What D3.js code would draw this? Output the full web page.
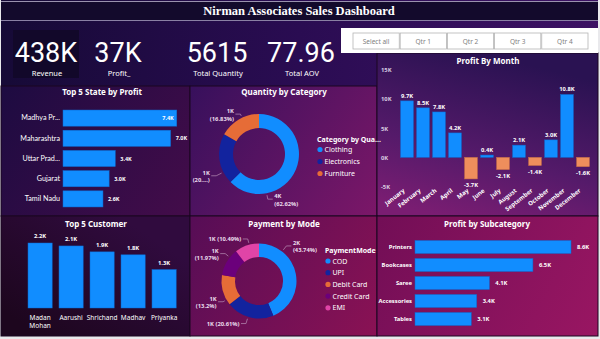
<!DOCTYPE html>
<html><head><meta charset="utf-8">
<script src="https://cdn.jsdelivr.net/npm/d3@7"></script>
<style>
html,body{margin:0;padding:0;background:#e9e9ec;}
svg{display:block;}
text{font-family:"Noto Sans","Open Sans",sans-serif;}
</style></head><body>
<svg id="dash" width="600" height="339"></svg>
<script>
// ---- data ----
const kpiValues = ["438K", "37K", "5615", "77.96"];
const kpiLabels = ["Revenue", "Profit_", "Total Quantity", "Total AOV"];
const quarters = ["Select all", "Qtr 1", "Qtr 2", "Qtr 3", "Qtr 4"];

const states = ["Madhya Pradesh", "Maharashtra", "Uttar Pradesh", "Gujarat", "Tamil Nadu"];
const stateProfit = [7400, 7000, 3400, 3000, 2600];

const categories = ["Clothing", "Electronics", "Furniture"];
const categoryQty = [3516, 1154, 945];

const months = ["January", "February", "March", "April", "May", "June", "July",
  "August", "September", "October", "November", "December"];
const monthProfit = [9700, 8500, 7800, 4200, -3700, 400, -2100, 2100, -1400, 3000, 10800, -1600];
const monthTicks = [-5000, 0, 5000, 10000, 15000];

const customers = ["Madan Mohan", "Aarushi", "Shrichand", "Madhav", "Priyanka"];
const customerAmount = [2200, 2100, 1900, 1800, 1300];

const payModes = ["COD", "UPI", "Debit Card", "Credit Card", "EMI"];
const payQty = [2456, 1157, 741, 672, 589];

const subcats = ["Printers", "Bookcases", "Saree", "Accessories", "Tables"];
const subcatProfit = [8600, 6500, 4100, 3400, 3100];

// ---- styling ----
const BLUE = "#118DFF", NAVY = "#12239E", ORANGE = "#E66C37", PURPLE = "#6B007B", PINK = "#E044A7";
const NEG = "#EE8E5C";
const fmtK1 = v => (v / 1000).toFixed(1) + "K";
const fmtK0 = v => Math.round(v / 1000) + "K";
const fmtPct = p => "(" + (p * 100).toFixed(2).replace(/\.?0+$/, "") + "%)";

const svg = d3.select("#dash");
const defs = svg.append("defs");
function grad(id, stops, x1, y1, x2, y2) {
  const g = defs.append("linearGradient").attr("id", id)
    .attr("gradientUnits", "userSpaceOnUse")
    .attr("x1", x1).attr("y1", y1).attr("x2", x2).attr("y2", y2);
  stops.forEach(([o, c]) => g.append("stop").attr("offset", o).attr("stop-color", c));
  return `url(#${id})`;
}

// ---- frame and panels ----
svg.append("rect").attr("x", 1).attr("y", 0).attr("width", 597).attr("height", 336)
  .attr("fill", grad("gTop", [[0, "#160a36"], [0.5, "#2a0c52"], [1, "#3d1264"]], 0, 0, 600, 60));

const panels = [
  {x: 1, y: 86, w: 189, h: 130, fill: grad("gState", [[0, "#1d0b41"], [1, "#440c4a"]], 1, 86, 190, 216)},
  {x: 190, y: 86, w: 187, h: 130, fill: grad("gQty", [[0, "#37105c"], [1, "#7c1768"]], 190, 86, 377, 216)},
  {x: 377, y: 53, w: 221, h: 163, fill: grad("gMonth", [[0, "#2a1252"], [0.6, "#551a6a"], [1, "#7a1d72"]], 480, 53, 440, 216)},
  {x: 1, y: 216, w: 189, h: 120, fill: grad("gCust", [[0, "#300b3e"], [1, "#1d061e"]], 120, 216, 40, 336)},
  {x: 190, y: 216, w: 187, h: 120, fill: grad("gPay", [[0, "#560d56"], [1, "#8a1254"]], 190, 216, 377, 336)},
  {x: 377, y: 216, w: 221, h: 120, fill: grad("gSub", [[0, "#720e56"], [1, "#991662"]], 377, 216, 598, 336)}
];
svg.selectAll("rect.panel").data(panels).join("rect").attr("class", "panel")
  .attr("x", d => d.x).attr("y", d => d.y).attr("width", d => d.w).attr("height", d => d.h)
  .attr("fill", d => d.fill).attr("stroke", "#1a0620").attr("stroke-width", 1);

// title bar
svg.append("rect").attr("x", 1).attr("y", 2).attr("width", 597).attr("height", 18).attr("fill", "#130a2c");
svg.append("line").attr("x1", 1).attr("x2", 598).attr("y1", 1.5).attr("y2", 1.5).attr("stroke", "#9a92ae").attr("stroke-width", 1.2);
svg.append("line").attr("x1", 1).attr("x2", 598).attr("y1", 20.5).attr("y2", 20.5).attr("stroke", "#8a80a4").attr("stroke-width", 1.2);
svg.append("text").attr("x", 299).attr("y", 15).attr("text-anchor", "middle")
  .attr("fill", "#fff").attr("font-size", 12.5).attr("font-weight", "bold")
  .style("font-family", '"Liberation Serif","DejaVu Serif",serif')
  .text("Nirman Associates Sales Dashboard");

// ---- KPI cards ----
svg.append("rect").attr("x", 13).attr("y", 30).attr("width", 66).attr("height", 48).attr("fill", "#12082a");
const kpiX = [46, 118, 217, 301];
kpiValues.forEach((v, i) => {
  svg.append("text").attr("x", kpiX[i]).attr("y", 62).attr("text-anchor", "middle")
    .attr("fill", "#fff").attr("font-size", 27).style("font-family", "Roboto,sans-serif").text(v);
  svg.append("text").attr("x", kpiX[i] + 1).attr("y", 76).attr("text-anchor", "middle")
    .attr("fill", "#fff").attr("font-size", 7.5).text(kpiLabels[i]);
});

// ---- quarter slicer ----
svg.append("rect").attr("x", 341).attr("y", 28).attr("width", 257).attr("height", 25).attr("fill", "#fff");
const qx = d3.scaleBand().domain(quarters).range([353, 588]).paddingInner(0.02);
svg.selectAll("rect.q").data(quarters).join("rect").attr("class", "q")
  .attr("x", d => qx(d)).attr("y", 33).attr("width", qx.bandwidth()).attr("height", 16)
  .attr("fill", "#fff").attr("stroke", "#b4b4b4").attr("stroke-width", 0.8);
svg.selectAll("text.q").data(quarters).join("text").attr("class", "q")
  .attr("x", d => qx(d) + qx.bandwidth() / 2).attr("y", 43.5).attr("text-anchor", "middle")
  .attr("fill", "#808080").attr("font-size", 6.5).text(d => d);

function title(x, y, t) {
  svg.append("text").attr("x", x).attr("y", y).attr("text-anchor", "middle")
    .attr("fill", "#fff").attr("font-size", 8).attr("font-weight", "bold").text(t);
}
title(102, 95, "Top 5 State by Profit");
title(284, 95, "Quantity by Category");
title(488, 64, "Profit By Month");
title(96, 227, "Top 5 Customer");
title(284, 227, "Payment by Mode");
title(487, 227, "Profit by Subcategory");

function truncate(sel, maxW) {
  sel.each(function () {
    const t = d3.select(this);
    const full = t.text();
    if (this.getComputedTextLength() <= maxW) return;
    let s = full;
    while (s.length > 1) {
      s = s.slice(0, -1);
      t.text(s.trimEnd() + "...");
      if (this.getComputedTextLength() <= maxW) break;
    }
  });
}

// ---- Top 5 State by Profit ----
{
  const x = d3.scaleLinear().domain([0, 8000]).range([63, 186]);
  const y = d3.scaleBand().domain(states).range([108, 209]).paddingInner(0.2).paddingOuter(0.1);
  const g = svg.append("g");
  g.selectAll("rect").data(states).join("rect")
    .attr("x", x(0)).attr("y", d => y(d)).attr("height", y.bandwidth())
    .attr("width", (d, i) => x(stateProfit[i]) - x(0))
    .attr("fill", BLUE).attr("stroke", "#0d6ad0").attr("stroke-width", 0.5);
  const ax = svg.append("g").attr("transform", "translate(60,0)")
    .call(d3.axisLeft(y).tickSize(0).tickPadding(0));
  ax.select(".domain").remove();
  ax.selectAll("text").attr("fill", "#fff").attr("font-size", 7.2)
    .style("font-family", 'Lato,"Noto Sans",sans-serif');
  truncate(ax.selectAll("text"), 40);
  g.selectAll("text").data(states).join("text")
    .attr("x", (d, i) => i === 0 ? x(stateProfit[i]) - 3 : x(stateProfit[i]) + 5)
    .attr("text-anchor", (d, i) => i === 0 ? "end" : "start")
    .attr("y", d => y(d) + y.bandwidth() / 2 + 2)
    .attr("fill", "#fff").attr("font-size", 5.5).attr("font-weight", "bold")
    .text((d, i) => fmtK1(stateProfit[i]));
}

// ---- donut helper ----
function donut(cx, cy, rO, rI, names, vals, colors, cfg, panelLeft) {
  const total = d3.sum(vals);
  const arcs = d3.pie().sort(null).value(d => d)(vals);
  const arc = d3.arc().innerRadius(rI).outerRadius(rO);
  const g = svg.append("g").attr("transform", `translate(${cx},${cy})`);
  g.selectAll("path").data(arcs).join("path").attr("d", arc).attr("fill", (d, i) => colors[i]);
  arcs.forEach((d, i) => {
    const c = cfg[i];
    const a = c.angle * Math.PI / 180;
    const side = Math.sin(a) >= 0 ? 1 : -1;
    const p1 = [Math.sin(a) * (rO + 2), -Math.cos(a) * (rO + 2)];
    const p2 = [Math.sin(a) * (rO + c.len), -Math.cos(a) * (rO + c.len)];
    const p3 = [p2[0] + side * 5, p2[1]];
    g.append("polyline").attr("points", [p1, p2, p3].map(p => p.join(",")).join(" "))
      .attr("fill", "none").attr("stroke", "#b88fb6").attr("stroke-width", 0.7);
    const k = fmtK0(vals[i]);
    const pctVal = vals[i] / total;
    const tx = p3[0] + side * 1.5;
    const t = g.append("text").attr("text-anchor", side > 0 ? "start" : "end")
      .attr("fill", "#eadcec").attr("font-size", 5.8).attr("font-weight", "bold");
    if (c.wrap) {
      t.append("tspan").attr("x", tx).attr("y", p3[1] - 1).text(k);
      const ts = t.append("tspan").attr("x", tx).attr("y", p3[1] + 6.5).text(fmtPct(pctVal));
      if (side < 0) {
        const avail = cx + tx - panelLeft - 1;
        if (ts.node().getComputedTextLength() > avail) {
          let inner = (pctVal * 100).toFixed(2) + "%";
          while (inner.length > 1) {
            inner = inner.slice(0, -1);
            ts.text("(" + inner + "...)");
            if (ts.node().getComputedTextLength() <= avail) break;
          }
        }
      }
    } else {
      t.attr("x", tx).attr("y", p3[1] + 2).text(k + " " + fmtPct(pctVal));
    }
  });
}
function legend(x, y, head, names, colors, step) {
  svg.append("text").attr("x", x).attr("y", y).attr("fill", "#fff")
    .attr("font-size", 7).attr("font-weight", "bold").text(head);
  names.forEach((n, i) => {
    const cy = y + 8 + i * step;
    svg.append("circle").attr("cx", x + 3).attr("cy", cy).attr("r", 2.6).attr("fill", colors[i]);
    svg.append("text").attr("x", x + 7.5).attr("y", cy + 2.5).attr("fill", "#fff")
      .attr("font-size", 7).text(n);
  });
}

// ---- Quantity by Category ----
donut(259, 154, 40, 26, categories, categoryQty, [BLUE, NAVY, ORANGE],
  [{angle: 169, len: 6, wrap: true}, {angle: 243, len: 8, wrap: true}, {angle: 335, len: 4, wrap: true}], 190);
{
  const head = svg.append("text").attr("x", 317).attr("y", 142).attr("fill", "#fff")
    .attr("font-size", 7).attr("font-weight", "bold").text("Category by Quantity");
  truncate(head, 66);
  categories.forEach((n, i) => {
    const cy = 149.5 + i * 12;
    svg.append("circle").attr("cx", 320).attr("cy", cy).attr("r", 2.6).attr("fill", [BLUE, NAVY, ORANGE][i]);
    svg.append("text").attr("x", 324.5).attr("y", cy + 2.5).attr("fill", "#fff")
      .attr("font-size", 7).text(n);
  });
}

// ---- Profit By Month ----
{
  const x = d3.scaleBand().domain(months).range([399, 591]).paddingInner(0.2).paddingOuter(0.1);
  const y = d3.scaleLinear().domain([-5000, 15000]).range([186.5, 70]);
  const g = svg.append("g");
  g.selectAll("rect").data(months).join("rect")
    .attr("x", d => x(d)).attr("width", x.bandwidth())
    .attr("y", (d, i) => y(Math.max(0, monthProfit[i])))
    .attr("height", (d, i) => Math.abs(y(monthProfit[i]) - y(0)))
    .attr("fill", (d, i) => monthProfit[i] >= 0 ? BLUE : NEG)
    .attr("stroke", (d, i) => monthProfit[i] >= 0 ? "#0d6ad0" : "#c86e44").attr("stroke-width", 0.5);
  g.selectAll("text").data(months).join("text")
    .attr("x", d => x(d) + x.bandwidth() / 2).attr("text-anchor", "middle")
    .attr("y", (d, i) => monthProfit[i] >= 0 ? y(monthProfit[i]) - 3 : y(monthProfit[i]) + 8)
    .attr("fill", "#fff").attr("font-size", 5.8).attr("font-weight", "bold")
    .text((d, i) => fmtK1(monthProfit[i]));
  const ay = svg.append("g").attr("transform", "translate(390,0)")
    .call(d3.axisLeft(y).tickValues(monthTicks).tickSize(0).tickFormat(v => v / 1000 + "K"));
  ay.select(".domain").remove();
  ay.selectAll("text").attr("text-anchor", "start").attr("x", -9)
    .attr("fill", "#d8cce0").attr("font-size", 5.8).attr("font-weight", "bold")
    .style("font-family", '"Noto Sans",sans-serif');
  const axb = svg.append("g").attr("transform", "translate(0,190)")
    .call(d3.axisBottom(x).tickSize(0));
  axb.select(".domain").remove();
  axb.selectAll("text").attr("x", 0).attr("y", 0).attr("dy", "0.3em")
    .attr("text-anchor", "end").attr("transform", "translate(-3,0) rotate(-38)")
    .attr("fill", "#fff").attr("font-size", 6).attr("font-weight", "bold")
    .style("font-family", '"Noto Sans",sans-serif');
}

// ---- Top 5 Customer ----
{
  const x = d3.scaleBand().domain(customers).range([24.6, 179.6]).paddingInner(0.22).paddingOuter(0.11);
  const y = d3.scaleLinear().domain([0, 2200]).range([308, 243]);
  const g = svg.append("g");
  g.selectAll("rect").data(customers).join("rect")
    .attr("x", d => x(d)).attr("width", x.bandwidth())
    .attr("y", (d, i) => y(customerAmount[i])).attr("height", (d, i) => y(0) - y(customerAmount[i]))
    .attr("fill", BLUE).attr("stroke", "#0d6ad0").attr("stroke-width", 0.5);
  g.selectAll("text").data(customers).join("text")
    .attr("x", d => x(d) + x.bandwidth() / 2).attr("text-anchor", "middle")
    .attr("y", (d, i) => y(customerAmount[i]) - 5)
    .attr("fill", "#fff").attr("font-size", 5.8).attr("font-weight", "bold")
    .text((d, i) => fmtK1(customerAmount[i]));
  const ax = svg.append("g").attr("transform", "translate(0,312)")
    .call(d3.axisBottom(x).tickSize(0));
  ax.select(".domain").remove();
  ax.selectAll("text").attr("fill", "#fff").attr("font-size", 6.5)
    .style("font-family", '"Noto Sans",sans-serif')
    .each(function (d) {
      const t = d3.select(this);
      if (this.getComputedTextLength() > x.step()) {
        const words = d.split(" ");
        t.text(null);
        words.forEach((w, k) => t.append("tspan").attr("x", 0).attr("dy", k === 0 ? "0.71em" : "1.25em").text(w));
      }
    });
}

// ---- Payment by Mode ----
donut(259, 281, 37.5, 24, payModes, payQty, [BLUE, NAVY, ORANGE, PURPLE, PINK],
  [{angle: 38, len: 7, wrap: true}, {angle: 197, len: 7, wrap: false}, {angle: 240, len: 4, wrap: true},
   {angle: 309, len: 6, wrap: true}, {angle: 345, len: 6, wrap: false}], 190);
legend(325, 253, "PaymentMode", payModes, [BLUE, NAVY, ORANGE, PURPLE, PINK], 11.7);

// ---- Profit by Subcategory ----
{
  const x = d3.scaleLinear().domain([0, 8600]).range([415, 571]);
  const y = d3.scaleBand().domain(subcats).range([238, 328]).paddingInner(0.28).paddingOuter(0.14);
  const g = svg.append("g");
  g.selectAll("rect").data(subcats).join("rect")
    .attr("x", x(0)).attr("y", d => y(d)).attr("height", y.bandwidth())
    .attr("width", (d, i) => x(subcatProfit[i]) - x(0))
    .attr("fill", BLUE).attr("stroke", "#0d6ad0").attr("stroke-width", 0.5);
  g.selectAll("text").data(subcats).join("text")
    .attr("x", (d, i) => x(subcatProfit[i]) + 6)
    .attr("y", d => y(d) + y.bandwidth() / 2 + 2)
    .attr("fill", "#fff").attr("font-size", 5.8).attr("font-weight", "bold")
    .text((d, i) => fmtK1(subcatProfit[i]));
  const ax = svg.append("g").attr("transform", "translate(412,0)")
    .call(d3.axisLeft(y).tickSize(0).tickPadding(0));
  ax.select(".domain").remove();
  ax.selectAll("text").attr("fill", "#fff").attr("font-size", 5.8).attr("font-weight", "bold")
    .style("font-family", '"Noto Sans",sans-serif');
}
</script>
</body></html>
